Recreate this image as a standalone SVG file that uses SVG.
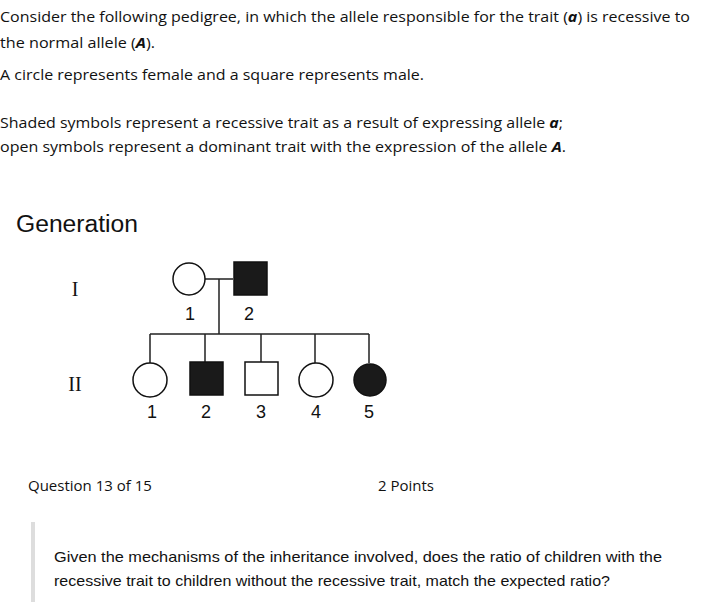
<svg xmlns="http://www.w3.org/2000/svg" width="701" height="602" viewBox="0 0 701 602">
<style>
.t{font-family:"Open Sans",sans-serif;font-size:15px;fill:#111}
.a{font-family:"Liberation Sans",Arial,sans-serif;fill:#111}
.n{font-family:"Liberation Sans",Arial,sans-serif;font-size:18px;fill:#111;text-anchor:middle}
.r{font-family:"Liberation Serif",serif;font-size:20px;fill:#111;text-anchor:middle}
.o{fill:#fff;stroke:#111;stroke-width:1.5}
.f{fill:#1a1a1a;stroke:#111;stroke-width:1.5}
.l{stroke:#222;stroke-width:1.5;fill:none}
</style>
<rect width="701" height="602" fill="#fff"/>
<text class="t" x="0" y="22" textLength="690" lengthAdjust="spacingAndGlyphs">Consider the following pedigree, in which the allele responsible for the trait (<tspan font-weight="bold" font-style="italic">a</tspan>) is recessive to</text>
<text class="t" x="0" y="48" textLength="155" lengthAdjust="spacingAndGlyphs">the normal allele (<tspan font-weight="bold" font-style="italic">A</tspan>).</text>
<text class="t" x="0" y="80" textLength="424" lengthAdjust="spacingAndGlyphs">A circle represents female and a square represents male.</text>
<text class="t" x="0" y="128" textLength="563" lengthAdjust="spacingAndGlyphs">Shaded symbols represent a recessive trait as a result of expressing allele <tspan font-weight="bold" font-style="italic">a</tspan>;</text>
<text class="t" x="0" y="152" textLength="566" lengthAdjust="spacingAndGlyphs">open symbols represent a dominant trait with the expression of the allele <tspan font-weight="bold" font-style="italic">A</tspan>.</text>
<text class="a" x="16" y="232" font-size="23" textLength="122" lengthAdjust="spacingAndGlyphs">Generation</text>
<text class="r" x="75" y="296">I</text>
<text class="r" x="75" y="391">II</text>
<g id="connectors">
<path class="l" d="M205 279H233M219 279V334M150 334H369M150 334V363M205 334V362M261 334V362M315 334V363M369 334V363"/>
</g>
<g id="I-1"><circle class="o" cx="189" cy="279" r="16"/><text class="n" x="190" y="320">1</text></g>
<g id="I-2"><rect class="f" x="234" y="262" width="33" height="33"/><text class="n" x="249" y="320">2</text></g>
<g id="II-1"><circle class="o" cx="150" cy="380" r="17"/><text class="n" x="152" y="418">1</text></g>
<g id="II-2"><rect class="f" x="190" y="362" width="33" height="33"/><text class="n" x="206" y="418">2</text></g>
<g id="II-3"><rect class="o" x="245" y="362" width="33" height="33"/><text class="n" x="261" y="418">3</text></g>
<g id="II-4"><circle class="o" cx="316" cy="380" r="17"/><text class="n" x="316" y="418">4</text></g>
<g id="II-5"><circle class="f" cx="370" cy="380" r="16"/><text class="n" x="369" y="418">5</text></g>
<text class="t" x="28" y="491" font-size="14">Question 13 of 15</text>
<text class="t" x="378" y="491" font-size="14">2 Points</text>
<rect x="31" y="522" width="4" height="80" fill="#ddd"/>
<text class="a" x="54" y="562" font-size="15" textLength="608" lengthAdjust="spacingAndGlyphs">Given the mechanisms of the inheritance involved, does the ratio of children with the</text>
<text class="a" x="54" y="586" font-size="15" textLength="556" lengthAdjust="spacingAndGlyphs">recessive trait to children without the recessive trait, match the expected ratio?</text>
</svg>
